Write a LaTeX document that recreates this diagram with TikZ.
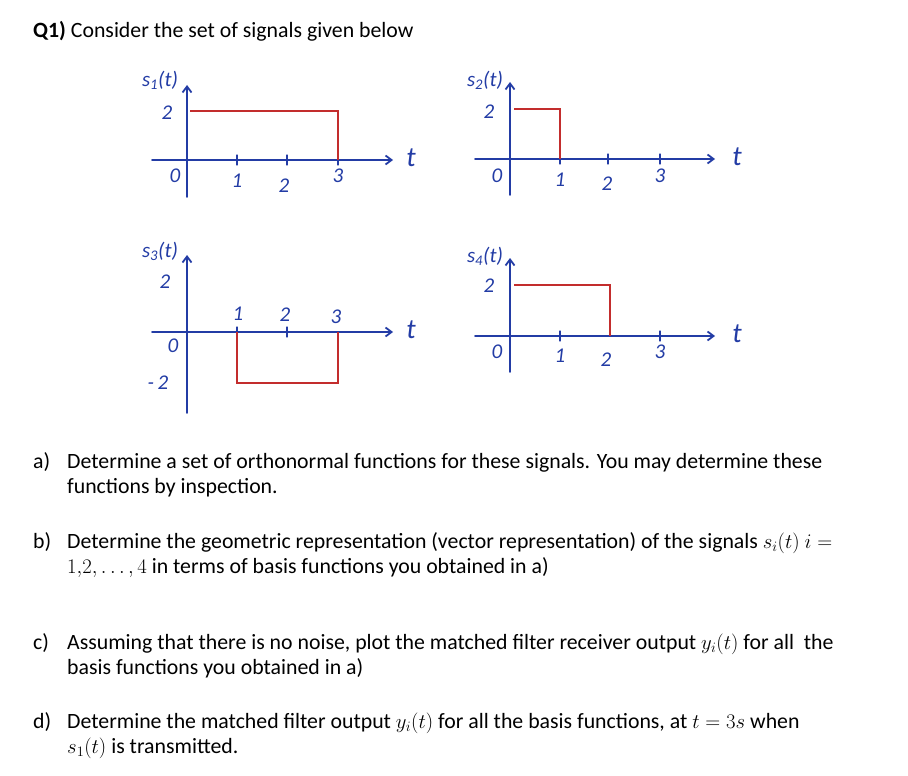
\documentclass[tikz,border=0pt]{standalone}
\usepackage{fontspec}
\setmainfont{Carlito}
\usetikzlibrary{arrows.meta}
\definecolor{ax}{RGB}{35,60,165}
\definecolor{sg}{RGB}{195,45,45}
\begin{document}
\begin{tikzpicture}[x=1pt,y=-1pt,
  axis/.style={ax,line width=1.8pt,line cap=round},
  arr/.style={axis,-{Straight Barb[length=6pt,width=9pt]}},
  sig/.style={sg,line width=1.5pt},
  hw/.style={ax,font=\fontsize{21}{21}\selectfont\itshape},
  txt/.style={anchor=base west,inner sep=0pt,font=\fontsize{21.8}{24}\selectfont}]
\useasboundingbox (0,0) rectangle (908,776);
% plot 1
\draw[arr] (152,160) -- (393,160); \draw[arr] (187,197) -- (187,85);
\foreach \x in {237,287,338}\draw[axis,line width=1.2pt] (\x,155)--(\x,165);
\draw[sig] (190,111) -- (338,111) -- (338,160);
\node[hw] (l1) at (160,80) {s\textsubscript{1}(t)};
\node[hw] (a1) at (167,113) {2};
\node[hw] (b1) at (175,176) {0};
\node[hw] at (237,181) {1};\node[hw] at (284,186) {2};\node[hw] at (338,176) {3};
\node[hw,font=\fontsize{28}{28}\selectfont\itshape] at (411,158) {t};
% plot 2
\draw[arr] (475,159) -- (715,159); \draw[arr] (510,195) -- (510,82);
\foreach \x in {560,608,660}\draw[axis,line width=1.2pt] (\x,154)--(\x,164);
\draw[sig] (514,109) -- (560,109) -- (560,159);
\node[hw] at (485,80) {s\textsubscript{2}(t)};
\node[hw] at (489,112) {2};
\node[hw] at (497,176) {0};
\node[hw] at (560,180) {1};\node[hw] at (607,184) {2};\node[hw] at (660,176) {3};
\node[hw,font=\fontsize{28}{28}\selectfont\itshape] at (737,157) {t};
% plot 3
\draw[arr] (152,332) -- (393,332); \draw[arr] (187,413) -- (187,255);
\foreach \x in {237,287}\draw[axis,line width=1.2pt] (\x,327)--(\x,337);
\draw[sig] (237,332) -- (237,383) -- (338,383) -- (338,332);
\node[hw] at (160,251) {s\textsubscript{3}(t)};
\node[hw] at (165,282) {2};
\node[hw] at (173,346) {0};
\node[hw] at (158,383) {-\,2};
\node[hw] at (238,314) {1};\node[hw] at (285,315) {2};\node[hw] at (336,317) {3};
\node[hw,font=\fontsize{28}{28}\selectfont\itshape] at (411,330) {t};
% plot 4
\draw[arr] (475,336) -- (715,336); \draw[arr] (510,372) -- (510,258);
\foreach \x in {560,660}\draw[axis,line width=1.2pt] (\x,331)--(\x,341);
\draw[sig] (514,285) -- (610,285) -- (610,336);
\node[hw] at (485,256) {s\textsubscript{4}(t)};
\node[hw] at (489,286) {2};
\node[hw] at (497,352) {0};
\node[hw] at (560,356) {1};\node[hw] at (606,360) {2};\node[hw] at (660,352) {3};
\node[hw,font=\fontsize{28}{28}\selectfont\itshape] at (737,334) {t};
% text
\node[txt] (q) at (33,38) {\textbf{Q1)} Consider the set of signals given below};
\node[txt] at (33,468) {a)};
\node[txt] at (67,468) {Determine a set of orthonormal functions for these signals. You may determine these};
\node[txt] at (67,493) {functions by inspection.};
\node[txt] at (33,548) {b)};
\node[txt] at (67,548) {Determine the geometric representation (vector representation) of the signals $s_i(t)\ i=$};
\node[txt] at (67,573) {$1{,}2,\ldots,4$ in terms of basis functions you obtained in a)};
\node[txt] at (33,649) {c)};
\node[txt] at (67,649) {Assuming that there is no noise, plot the matched filter receiver output $y_i(t)$ for all\ \ the};
\node[txt] at (67,674) {basis functions you obtained in a)};
\node[txt] at (33,728) {d)};
\node[txt] at (67,728) {Determine the matched filter output $y_i(t)$ for all the basis functions, at $t=3s$ when};
\node[txt] at (67,753) {$s_1(t)$ is transmitted.};
\end{tikzpicture}
\end{document}
